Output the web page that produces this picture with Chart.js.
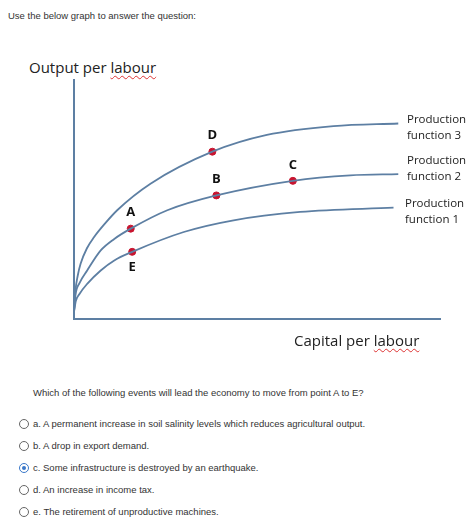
<!DOCTYPE html>
<html>
<head>
<meta charset="utf-8">
<script src="https://cdn.jsdelivr.net/npm/chart.js"></script>
<style>
  body { margin: 0; width: 474px; height: 530px; background: #fff; position: relative; overflow: hidden; font-family: "Liberation Sans", Arial, sans-serif; color: #333; }
  .t { position: absolute; white-space: nowrap; }
  .small { font-size: 9.5px; }
  .big { font-family: "Open Sans", sans-serif; font-size: 15px; color: #222; }
  .wavy { text-decoration: underline wavy #d33; text-decoration-thickness: 1px; text-underline-offset: 2px; }
  .pf { font-family: "Open Sans", sans-serif; font-size: 11.5px; line-height: 16px; color: #222; }
  .radio { position: absolute; left: 19px; width: 8px; height: 8px; border: 1px solid #666; border-radius: 50%; }
  .radio.on { border-color: #3a78c9; }
  .radio.on::after { content: ""; position: absolute; left: 2px; top: 2px; width: 4px; height: 4px; border-radius: 50%; background: #3a78c9; }
  #wrap { position: absolute; left: 0; top: 50px; width: 474px; height: 310px; }
</style>
</head>
<body>
<div class="t small" style="left:8px;top:10px;">Use the below graph to answer the question:</div>
<div class="t big" style="left:29px;top:57px;">Output per <span class="wavy">labour</span></div>
<div id="wrap"><canvas id="grafico"></canvas></div>
<div class="t pf" style="left:407px;top:111px;">Production<br>function 3</div>
<div class="t pf" style="left:407px;top:152px;">Production<br>function 2</div>
<div class="t pf" style="left:405px;top:195px;">Production<br>function 1</div>
<div class="t big" style="left:294px;top:330px;">Capital per <span class="wavy">labour</span></div>

<div class="t small" style="left:33px;top:387px;">Which of the following events will lead the economy to move from point A to E?</div>
<div class="radio" style="top:419px;"></div>
<div class="t small" style="left:33px;top:418px;">a. A permanent increase in soil salinity levels which reduces agricultural output.</div>
<div class="radio" style="top:441px;"></div>
<div class="t small" style="left:33px;top:440px;">b. A drop in export demand.</div>
<div class="radio on" style="top:463px;"></div>
<div class="t small" style="left:33px;top:462px;">c. Some infrastructure is destroyed by an earthquake.</div>
<div class="radio" style="top:485px;"></div>
<div class="t small" style="left:33px;top:484px;">d. An increase in income tax.</div>
<div class="radio" style="top:507px;"></div>
<div class="t small" style="left:33px;top:506px;">e. The retirement of unproductive machines.</div>

<script>
// curvas (capital por trabalhador x produto por trabalhador)
const funcao3X = [0, 0.4, 1, 1.8, 3.5, 5.5, 8.5, 11.8, 20.9, 37.8, 52.7, 70.9, 88.6];
const funcao3Y = [3, 12, 18, 23.1, 29.5, 34.3, 40, 45.5, 56.6, 70.0, 77.0, 80.7, 81.8];
const funcao2X = [0, 0.4, 1.5, 3.6, 7.3, 11, 15.5, 25.5, 38.9, 59.8, 75.5, 88.6];
const funcao2Y = [3, 10, 15, 20.3, 28.7, 33.5, 37.8, 45.5, 51.7, 57.8, 60.1, 60.6];
const funcao1X = [0, 0.5, 1.5, 3.6, 7.3, 11, 15.9, 30, 43.6, 61.8, 87.3];
const funcao1Y = [3, 7.5, 10.5, 14.7, 20.3, 24.5, 28.1, 36.4, 41.3, 44.8, 46.6];

const pontosNomes = ["A", "B", "C", "D", "E"];
const pontosX = [15.5, 38.9, 59.8, 37.8, 15.9];
const pontosY = [37.8, 51.7, 57.8, 70.0, 28.1];
const rotuloAbaixo = [false, false, false, false, true];

const corLinha = "#5d7fa3";

function juntar(xs, ys) {
  return xs.map((x, i) => ({ x: x, y: ys[i] }));
}

const rotulosPontos = {
  id: "rotulosPontos",
  afterDatasetsDraw(chart) {
    const ctx = chart.ctx;
    const sx = chart.scales.x;
    const sy = chart.scales.y;
    ctx.save();
    ctx.font = "bold 13px 'Open Sans', sans-serif";
    ctx.fillStyle = "#111";
    ctx.textAlign = "center";
    ctx.textBaseline = "middle";
    pontosNomes.forEach((nome, i) => {
      const px = sx.getPixelForValue(pontosX[i]);
      const py = sy.getPixelForValue(pontosY[i]);
      ctx.fillText(nome, px, rotuloAbaixo[i] ? py + 15 : py - 16);
    });
    ctx.restore();
  },
};

const grafico = document.getElementById("grafico").getContext("2d");

new Chart(grafico, {
  type: "line",
  data: {
    datasets: [
      { data: juntar(funcao3X, funcao3Y), borderColor: corLinha, borderWidth: 1.8, pointRadius: 0, cubicInterpolationMode: "monotone" },
      { data: juntar(funcao2X, funcao2Y), borderColor: corLinha, borderWidth: 1.8, pointRadius: 0, cubicInterpolationMode: "monotone" },
      { data: juntar(funcao1X, funcao1Y), borderColor: corLinha, borderWidth: 1.8, pointRadius: 0, cubicInterpolationMode: "monotone" },
      {
        type: "scatter",
        data: juntar(pontosX, pontosY),
        pointRadius: 3.5,
        backgroundColor: "#c8142f",
        borderColor: "#c8142f",
        showLine: false,
      },
    ],
  },
  options: {
    responsive: true,
    maintainAspectRatio: false,
    animation: false,
    layout: { padding: { left: 66, right: 34, top: 30, bottom: 33 } },
    plugins: { legend: { display: false }, tooltip: { enabled: false } },
    scales: {
      x: {
        type: "linear",
        min: 0,
        max: 100,
        ticks: { display: false },
        grid: { display: false },
        border: { color: corLinha, width: 2 },
      },
      y: {
        min: 0,
        max: 100,
        ticks: { display: false },
        grid: { display: false },
        border: { color: corLinha, width: 2 },
      },
    },
  },
  plugins: [rotulosPontos],
});
</script>
</body>
</html>
